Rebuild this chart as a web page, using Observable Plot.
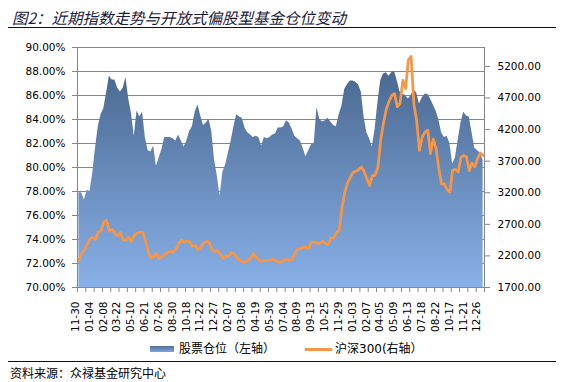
<!DOCTYPE html>
<html><head><meta charset="utf-8">
<script src="https://cdn.jsdelivr.net/npm/d3@7"></script>
<script src="https://cdn.jsdelivr.net/npm/@observablehq/plot@0.6"></script>
<style>
body{margin:0;background:#fff;}
#wrap{position:relative;width:566px;height:382px;overflow:hidden;font-family:"DejaVu Sans","Noto Sans CJK SC",sans-serif;color:#000;}
#title{position:absolute;left:12px;top:8px;font-size:15.5px;line-height:18px;font-style:italic;font-family:"Noto Sans CJK SC",sans-serif;color:#1c1c3c;white-space:nowrap;}
#tline{position:absolute;left:8px;top:27px;width:548px;height:0;border-top:1.5px solid #111;}
#chart{position:absolute;left:0;top:37px;}
.lg{position:absolute;font-size:12px;line-height:14px;white-space:nowrap;font-family:"DejaVu Sans","Noto Sans CJK SC",sans-serif;}
#sw1{position:absolute;left:150px;top:346px;width:24px;height:6px;background:linear-gradient(#4f6f9c,#7fa6dc);}
#sw2{position:absolute;left:305px;top:348px;width:27px;height:2.5px;background:#f79646;}
#bline{position:absolute;left:8px;top:361px;width:548px;height:0;border-top:1px solid #111;}
#src{position:absolute;left:10px;top:365px;font-size:12px;line-height:15px;font-family:"Noto Sans CJK SC",sans-serif;white-space:nowrap;}
</style></head>
<body>
<div id="wrap">
  <div id="title">图2：近期指数走势与开放式偏股型基金仓位变动</div>
  <div id="tline"></div>
  <div id="chart"></div>
  <div id="sw1"></div><div class="lg" style="left:179px;top:342px;">股票仓位（左轴）</div>
  <div id="sw2"></div><div class="lg" style="left:335px;top:342px;">沪深300(右轴）</div>
  <div id="bline"></div>
  <div id="src">资料来源：众禄基金研究中心</div>
</div>
<script>
// Weekly stock-fund equity position (%), left axis
const position = [
  77.9,77.9,77.3,78.1,78.0,79.5,81.6,83.4,84.4,84.9,
  86.2,87.6,87.3,87.3,86.6,86.3,86.6,87.5,85.7,84.5,
  82.6,84.7,84.2,84.6,82.5,81.4,81.3,81.8,80.1,80.8,
  81.5,82.5,82.5,82.5,82.4,82.2,82.7,82.2,81.7,82.2,
  83.0,83.4,84.6,85.2,84.3,83.5,83.7,84.0,83.0,80.6,
  79.3,77.6,79.6,80.2,81.2,82.2,83.4,84.4,84.2,84.1,
  83.3,82.9,82.7,82.5,82.6,82.5,81.8,82.5,82.4,82.5,
  82.7,82.8,83.3,83.3,83.4,83.9,83.7,83.2,82.6,82.4,
  82.2,81.6,80.9,81.4,81.9,82.0,85.0,84.0,83.8,83.9,
  84.1,83.8,83.5,83.4,84.4,85.1,86.5,86.9,87.2,87.2,
  87.1,86.9,86.3,84.2,82.9,82.4,81.7,83.2,85.4,87.2,
  87.8,87.9,87.6,87.9,88.0,87.2,86.3,86.1,86.0,85.7,
  86.0,86.5,86.2,85.3,85.8,86.1,86.1,85.7,85.2,84.7,
  84.0,82.9,82.5,82.6,82.0,80.3,80.8,82.3,83.7,84.6,
  84.3,84.2,82.9,81.6,81.4,81.2,80.6
];
// CSI 300 index, right axis
const csi300 = [
  2128,2234,2290,2380,2470,2495,2460,2576,2600,2740,
  2760,2590,2620,2560,2520,2570,2450,2450,2490,2430,
  2530,2560,2576,2576,2450,2270,2160,2190,2240,2160,
  2185,2220,2260,2270,2260,2300,2400,2450,2420,2440,
  2420,2350,2366,2290,2340,2400,2430,2420,2313,2270,
  2286,2234,2160,2200,2190,2250,2234,2180,2130,2110,
  2102,2128,2155,2240,2180,2128,2118,2125,2128,2128,
  2150,2125,2110,2102,2128,2150,2130,2140,2230,2313,
  2313,2340,2340,2313,2418,2418,2400,2400,2428,2400,
  2381,2482,2482,2566,2600,2950,3200,3350,3440,3520,
  3540,3560,3610,3540,3420,3315,3470,3480,3600,4030,
  4300,4520,4640,4740,4770,4560,4620,4980,4850,5300,
  5360,4600,4340,3870,4080,4160,4190,3820,4050,3900,
  3580,3340,3340,3250,3210,3560,3570,3530,3760,3790,
  3770,3550,3670,3610,3740,3830,3790
];
// Category labels shown every 5th week
const xLabels = ["11-30","01-04","02-08","03-22","05-10","06-21","07-26","08-30","10-18","11-22",
  "12-27","02-07","03-08","04-19","05-30","07-04","08-09","09-13","10-25","11-29",
  "01-03","02-07","04-05","05-09","06-13","07-18","08-22","10-17","11-21","12-26"];
const leftTicks = [70,72,74,76,78,80,82,84,86,88,90];
const rightTicks = [1700,2200,2700,3200,3700,4200,4700,5200];
const rightDomain = [1700,5500];
const leftDomain = [70,90];

const N = position.length;
const toLeft = v => leftDomain[0] + (v - rightDomain[0]) / (rightDomain[1] - rightDomain[0]) * (leftDomain[1] - leftDomain[0]);
const fromLeft = p => rightDomain[0] + (p - leftDomain[0]) / (leftDomain[1] - leftDomain[0]) * (rightDomain[1] - rightDomain[0]);
const data = position.map((p, i) => ({i, p, c: toLeft(csi300[i])}));
const labelIdx = xLabels.map((_, k) => k * 5);
const tickIdx = d3.range(-0.5, N, 3);
const axisColor = "#868686";

const chart = Plot.plot({
  width: 566, height: 300,
  marginLeft: 77, marginRight: 82, marginTop: 10, marginBottom: 50,
  style: {fontFamily: "DejaVu Sans", fontSize: "10.5px", color: "#000", background: "transparent", overflow: "visible"},
  x: {type: "linear", domain: [-0.5, N - 0.5], axis: null, label: null},
  y: {domain: leftDomain, axis: null, label: null},
  marks: [
    Plot.ruleY(leftTicks, {stroke: axisColor, strokeWidth: 1}),
    Plot.areaY(data, {x: "i", y1: leftDomain[0], y2: "p", fill: "url(#posGrad)"}),
    Plot.lineY(data, {x: "i", y: "c", stroke: "#f79646", strokeWidth: 2.75, strokeLinejoin: "round"}),
    Plot.ruleX([-0.5, N - 0.5], {stroke: axisColor}),
    Plot.ruleY([leftDomain[0]], {stroke: axisColor}),
    Plot.axisY(leftTicks, {anchor: "left", tickSize: 5, tickPadding: 7, stroke: axisColor, fill: "#000", label: null,
      tickFormat: d => d.toFixed(2) + "%"}),
    Plot.axisY(rightTicks.map(toLeft), {anchor: "right", tickSize: 5, tickPadding: 8, stroke: axisColor, fill: "#000", label: null,
      tickFormat: d => Math.round(fromLeft(d)).toFixed(2)}),
    Plot.axisX(tickIdx, {anchor: "bottom", tickSize: 5, stroke: axisColor, tickFormat: () => "", label: null}),
    Plot.text(labelIdx, {x: d => d, text: (d, k) => xLabels[k], frameAnchor: "bottom", dy: 14,
      rotate: -90, textAnchor: "end", fill: "#000", fontSize: 10.5})
  ]
});

const defs = d3.select(chart).insert("defs", ":first-child");
const g = defs.append("linearGradient").attr("id", "posGrad").attr("gradientUnits", "userSpaceOnUse")
  .attr("x1", 0).attr("x2", 0).attr("y1", 32).attr("y2", 250);
g.append("stop").attr("offset", 0).attr("stop-color", "#4a6890");
g.append("stop").attr("offset", 1).attr("stop-color", "#88b0e8");

document.getElementById("chart").appendChild(chart);
</script>
</body></html>
